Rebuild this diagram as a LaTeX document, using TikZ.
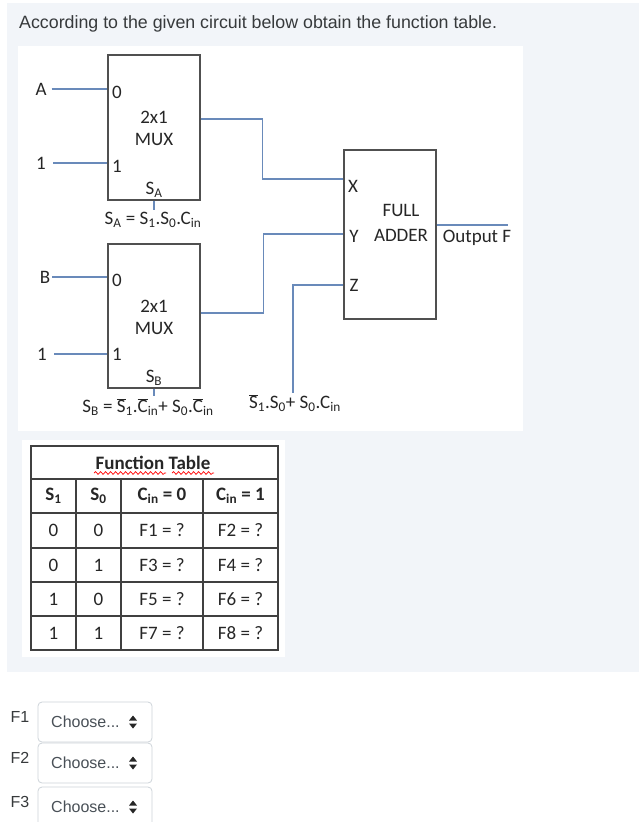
\documentclass[tikz,border=0pt]{standalone}
\usepackage{fontspec}
\setmainfont{Liberation Sans}
\newfontfamily\circfont{Carlito}
\usetikzlibrary{calc,decorations.pathmorphing}
\definecolor{panelgrey}{RGB}{242,245,249}
\definecolor{wireblue}{RGB}{105,138,186}
\definecolor{boxgrey}{RGB}{80,80,80}
\definecolor{textgrey}{RGB}{55,58,60}
\definecolor{selborder}{RGB}{206,212,218}
\definecolor{seltext}{RGB}{73,80,87}
\newcommand{\nt}[1]{\ensuremath{\overline{\mbox{#1}}}}

\begin{document}
\begin{tikzpicture}[x=1pt,y=-1pt,
    wire/.style={draw=wireblue,line width=1.2pt},
    block/.style={draw=boxgrey,line width=1.4pt,minimum width=92pt,inner sep=0pt},
    lbl/.style={font=\circfont\fontsize{19}{22}\selectfont,inner sep=0pt,text=black!85},
    tabline/.style={draw=black!75,line width=1.7pt},
    wavy/.style={red,line width=0.7pt,decorate,decoration={snake,amplitude=1.4pt,segment length=5pt}},
    sel/.style={draw=selborder,rounded corners=4pt,line width=0.8pt,fill=white}]
    \useasboundingbox (0,0) rectangle (639,822);
    \fill[white] (0,0) rectangle (639,822);
    \fill[panelgrey] (7,3) rectangle (639,672);
    \node[anchor=base west,inner sep=0pt,text=textgrey,font=\fontsize{17.8}{21}\selectfont] (title) at (19,28) {According to the given circuit below obtain the function table.};
    \fill[white] (18,46) rectangle (523,431);
    \fill[white] (22,440) rectangle (285,657);

    \node[block,minimum height=145pt] (muxA) at (154,127.5) {};
    \node[block,minimum height=144pt] (muxB) at (154,316) {};
    \node[block,minimum height=169pt] (fa) at (390,234.5) {};

    \node[lbl,align=center] at (154,128) {2x1\\MUX};
    \node[lbl,align=center] at (154,317) {2x1\\MUX};
    \node[lbl,align=center] at (401,222.5) {FULL\\[3pt]ADDER};

    \node[lbl,anchor=west] at (112,92) {0};
    \node[lbl,anchor=west] at (112,166) {1};
    \node[lbl] at (154,190) {S\textsubscript{A}};
    \node[lbl,anchor=west] at (112,280) {0};
    \node[lbl,anchor=west] at (112,354) {1};
    \node[lbl] at (154,378) {S\textsubscript{B}};
    \node[lbl] at (353,186) {X};
    \node[lbl] at (354,236) {Y};
    \node[lbl] at (354,285) {Z};

    \node[lbl] (inA) at (41,89) {A};
    \node[lbl] (inA1) at (41,163) {1};
    \node[lbl] (inB) at (45,277) {B};
    \node[lbl] (inB1) at (42,354) {1};
    \draw[wire] ([xshift=5pt]inA.east) -- (muxA.west |- inA);
    \draw[wire] ([xshift=7pt]inA1.east) -- (muxA.west |- inA1);
    \draw[wire] ([xshift=2pt]inB.east) -- (muxB.west |- inB);
    \draw[wire] ([xshift=7pt]inB1.east) -- (muxB.west |- inB1);

    \coordinate (outA) at (muxA.east |- 0,119);
    \coordinate (outB) at (muxB.east |- 0,313);
    \coordinate (faX) at (fa.west |- 0,179);
    \coordinate (faY) at (fa.west |- 0,234);
    \coordinate (faZ) at (fa.west |- 0,285);
    \coordinate (zend) at (293,393);
    \coordinate (outend) at (508,225);
    \draw[wire] (outA) -- ++(62,0) |- (faX);
    \draw[wire] (outB) -- ++(63,0) |- (faY);
    \draw[wire] (faZ) -| (zend);
    \draw[wire] (fa.east |- outend) -- (outend);
    \node[lbl] at (477,238) {Output F};

    \draw[wire] (muxA.south) -- ++(0,9);
    \draw[wire] (muxB.south) -- ++(0,7);
    \node[lbl] at (153,220) {S\textsubscript{A} = S\textsubscript{1}.S\textsubscript{0}.C\textsubscript{in}};
    \node[lbl] at (148,407) {S\textsubscript{B} = \nt{S}\textsubscript{1}.\nt{C}\textsubscript{in}+ S\textsubscript{0}.\nt{C}\textsubscript{in}};
    \node[lbl] at (295,403) {\nt{S}\textsubscript{1}.S\textsubscript{0}+ S\textsubscript{0}.C\textsubscript{in}};

    \draw[tabline] (31,446) rectangle (278,650);
    \foreach \y in {479,513,548,582,616}
        \draw[tabline] (31,\y) -- (278,\y);
    \foreach \x in {76,121,203}
        \draw[tabline] (\x,479) -- (\x,650);
    \node[lbl,font=\circfont\bfseries\fontsize{19}{22}\selectfont] at (153,463) {Function Table};
    \draw[wavy] (94,473) -- (166,473);
    \draw[wavy] (172,473) -- (214,473);
    \node[lbl,font=\circfont\bfseries\fontsize{19}{22}\selectfont] at (53.5,496) {S\textsubscript{1}};
    \node[lbl,font=\circfont\bfseries\fontsize{19}{22}\selectfont] at (98.5,496) {S\textsubscript{0}};
    \node[lbl,font=\circfont\bfseries\fontsize{19}{22}\selectfont] at (162,496) {C\textsubscript{in} = 0};
    \node[lbl,font=\circfont\bfseries\fontsize{19}{22}\selectfont] at (240.5,496) {C\textsubscript{in} = 1};
    \foreach \a/\b/\c/\d/\y in {0/0/1/2/530.5, 0/1/3/4/565, 1/0/5/6/599, 1/1/7/8/633} {
        \node[lbl] at (53.5,\y) {\a};
        \node[lbl] at (98.5,\y) {\b};
        \node[lbl] at (162,\y) {F\c{} = ?};
        \node[lbl] at (240.5,\y) {F\d{} = ?};
    }

    \foreach \i/\y in {1/702, 2/743, 3/787} {
        \draw[sel] (38,\y) rectangle (152,\y+40);
        \node[inner sep=0pt,text=textgrey,font=\fontsize{16}{19}\selectfont] at (20,\y+15) {F\i};
        \node[anchor=west,inner sep=0pt,text=seltext,font=\fontsize{16}{19}\selectfont] at (51,\y+20) {Choose...};
        \fill[black!85] (129,\y+18.5) -- (137,\y+18.5) -- (133,\y+13.5) -- cycle;
        \fill[black!85] (129,\y+21.5) -- (137,\y+21.5) -- (133,\y+26.5) -- cycle;
    }
\end{tikzpicture}
\end{document}
